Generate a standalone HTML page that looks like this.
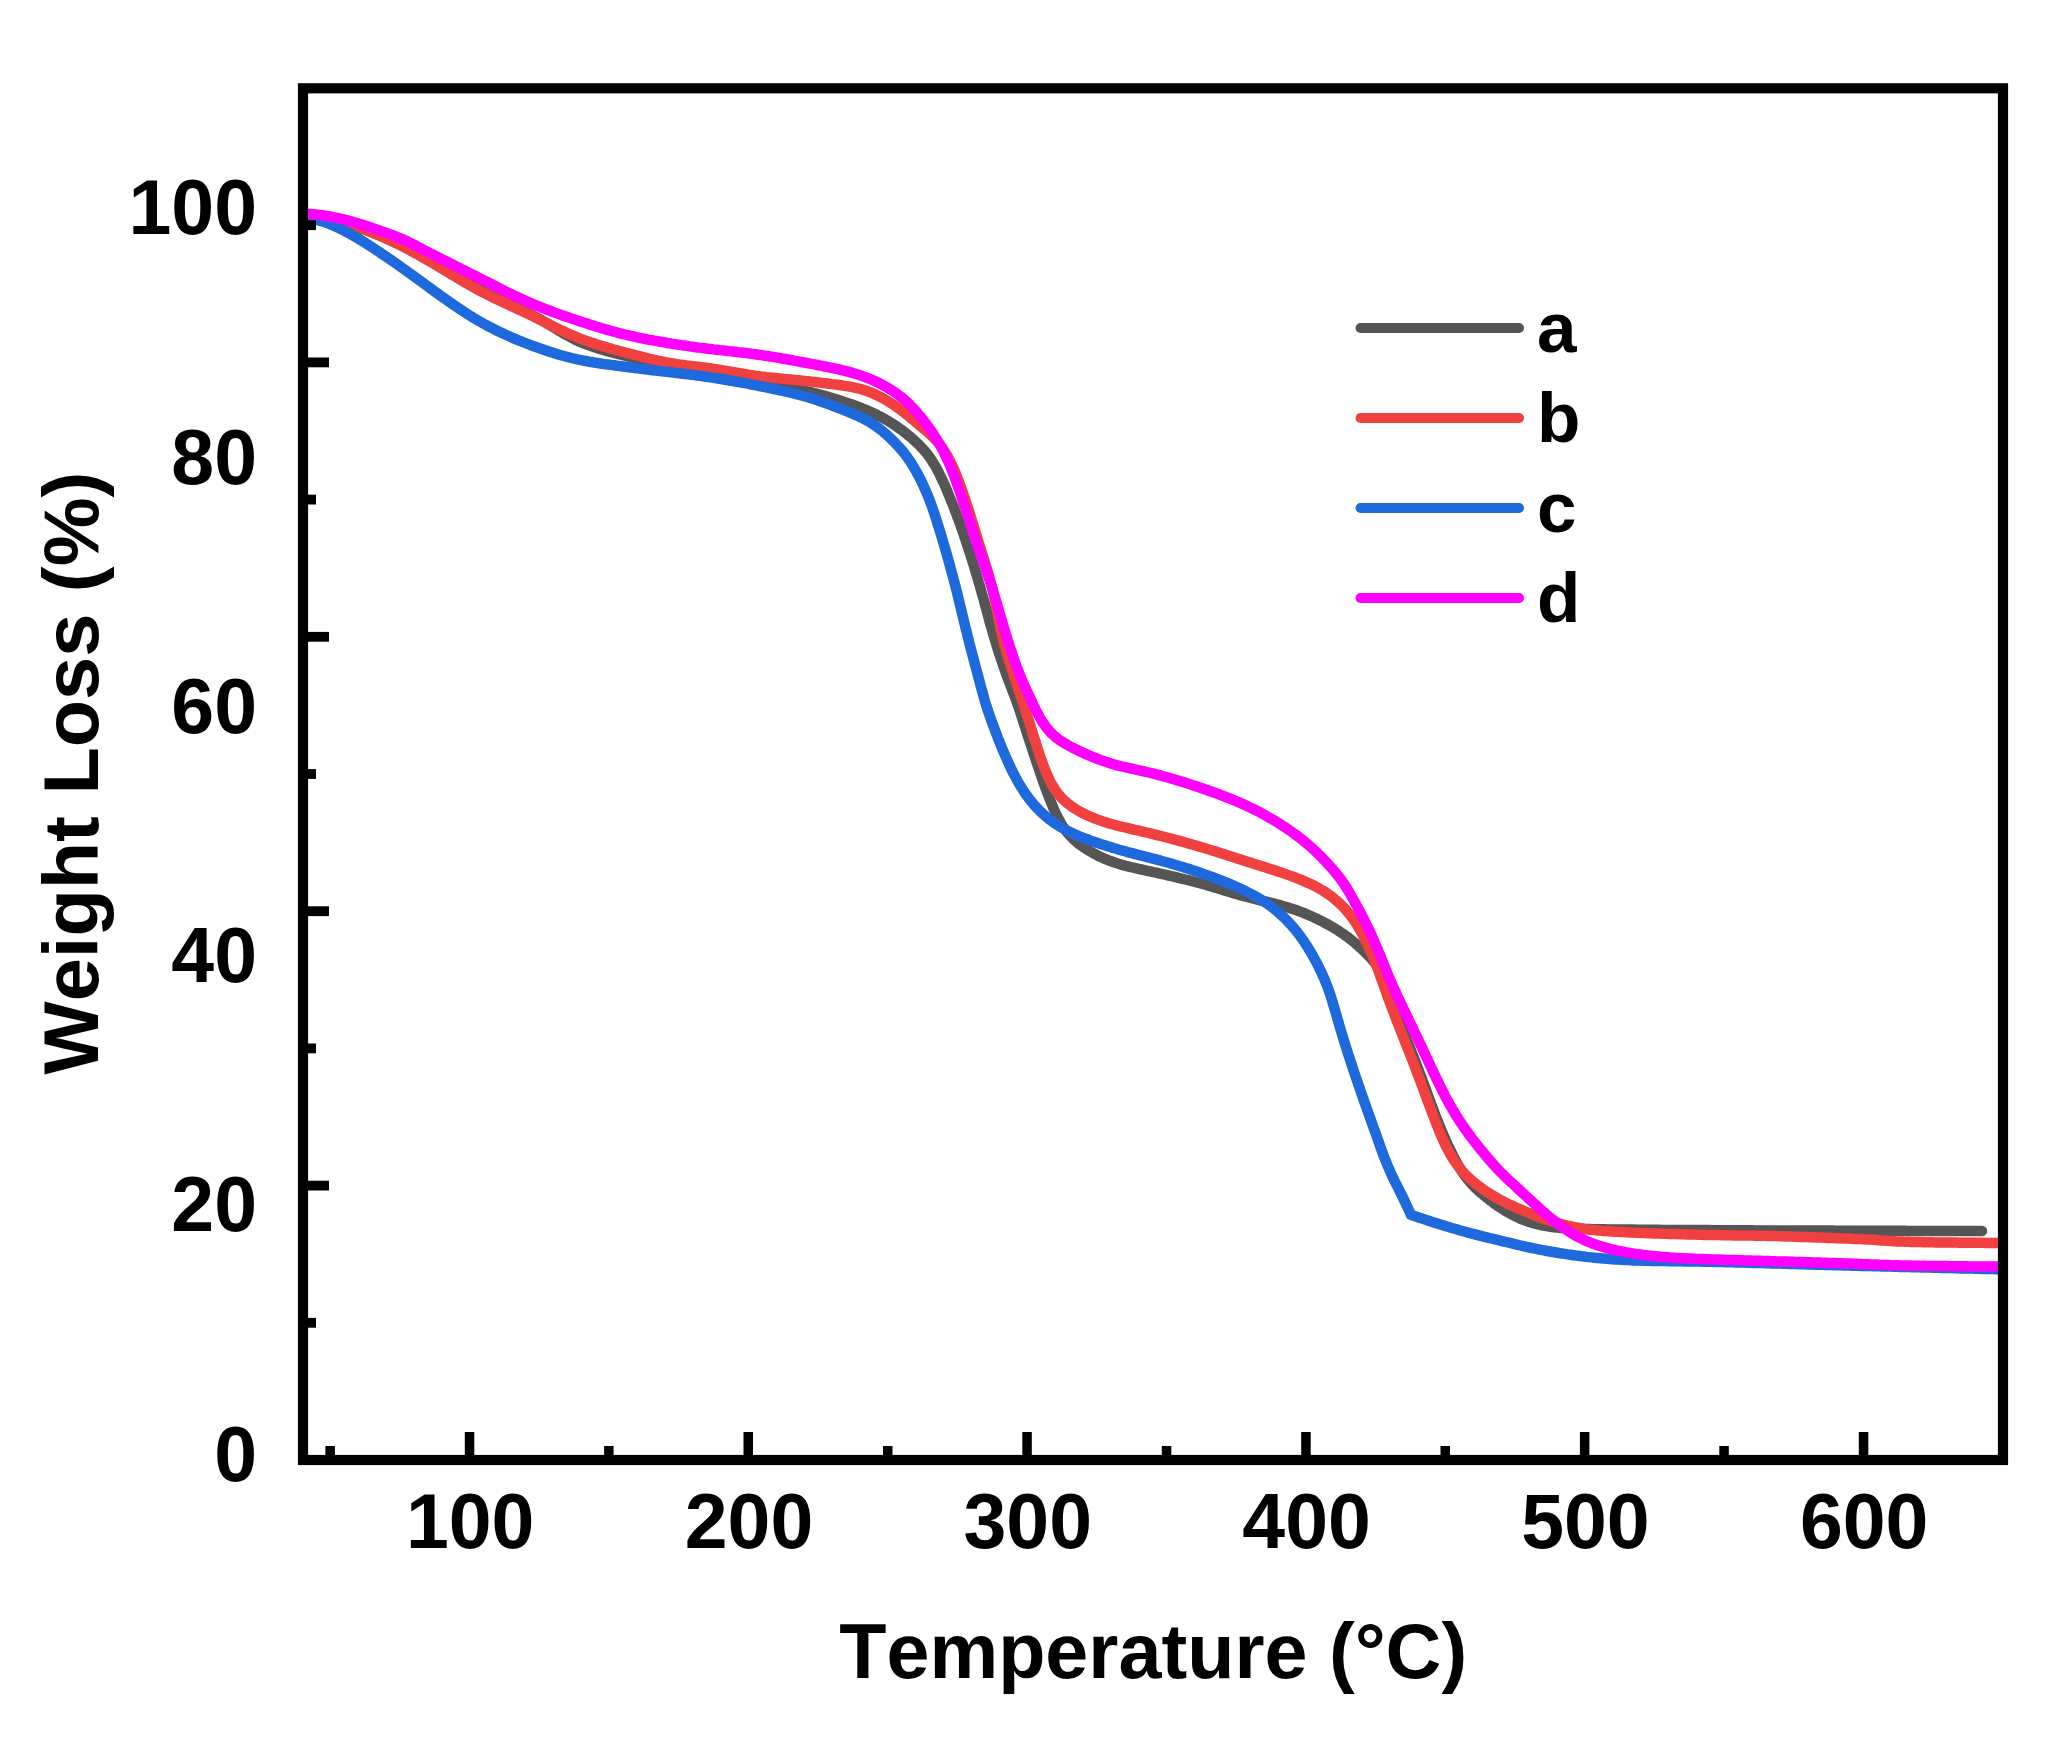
<!DOCTYPE html>
<html><head><meta charset="utf-8"><title>TGA</title>
<style>
html,body{margin:0;padding:0;background:#fff;}
svg{display:block;}
text{font-family:"Liberation Sans",Arial,Helvetica,sans-serif;font-weight:bold;fill:#000;font-kerning:none;}
</style></head>
<body>
<svg width="2057" height="1741" viewBox="0 0 2057 1741">
<rect width="2057" height="1741" fill="#fff"/>
<g fill="none" stroke-width="10.5" stroke-linejoin="round" stroke-linecap="round">
<path stroke="#555555" d="M304.0 214.2 L307.0 214.6 L309.9 215.1 L312.9 215.6 L315.9 216.1 L318.8 216.6 L321.8 217.1 L324.7 217.7 L327.6 218.4 L330.5 219.1 L333.4 219.8 L336.3 220.6 L339.2 221.4 L342.1 222.2 L345.0 223.1 L347.8 224.0 L350.7 224.9 L353.5 225.8 L356.4 226.7 L359.2 227.7 L362.1 228.7 L364.9 229.7 L367.7 230.7 L370.5 231.8 L373.3 232.9 L376.1 234.0 L378.9 235.1 L381.6 236.3 L384.4 237.4 L387.1 238.6 L389.9 239.9 L392.6 241.1 L395.3 242.4 L398.0 243.7 L400.7 245.0 L403.4 246.3 L406.1 247.7 L408.7 249.1 L411.4 250.5 L414.0 251.9 L416.7 253.3 L419.3 254.8 L421.9 256.2 L424.5 257.7 L427.2 259.1 L429.8 260.6 L432.4 262.1 L435.0 263.6 L437.6 265.1 L440.2 266.5 L442.8 268.0 L445.4 269.5 L448.0 271.1 L450.6 272.6 L453.2 274.1 L455.8 275.6 L458.4 277.1 L461.0 278.6 L463.6 280.1 L466.2 281.6 L468.8 283.1 L471.4 284.6 L474.0 286.0 L476.6 287.5 L479.2 289.0 L481.8 290.4 L484.5 291.9 L487.1 293.3 L489.8 294.7 L492.4 296.1 L495.1 297.4 L497.8 298.8 L500.5 300.1 L503.2 301.4 L505.9 302.7 L508.6 304.0 L511.3 305.2 L514.1 306.4 L516.8 307.7 L519.5 308.9 L522.2 310.2 L524.9 311.5 L527.6 312.8 L530.3 314.2 L533.0 315.5 L535.6 316.9 L538.2 318.4 L540.9 319.9 L543.5 321.3 L546.1 322.9 L548.7 324.4 L551.2 326.0 L553.8 327.5 L556.4 329.1 L559.0 330.7 L561.6 332.2 L564.1 333.7 L566.7 335.2 L569.4 336.6 L572.0 338.0 L574.6 339.4 L577.3 340.6 L580.0 341.9 L582.8 343.0 L585.5 344.1 L588.3 345.1 L591.1 346.1 L593.9 347.1 L596.8 348.0 L599.6 348.9 L602.5 349.7 L605.4 350.6 L608.3 351.4 L611.2 352.2 L614.1 352.9 L617.0 353.7 L620.0 354.5 L622.9 355.2 L625.8 355.9 L628.7 356.7 L631.6 357.4 L634.6 358.1 L637.5 358.9 L640.4 359.6 L643.3 360.3 L646.2 361.0 L649.2 361.7 L652.1 362.4 L655.0 363.0 L657.9 363.7 L660.9 364.3 L663.8 364.9 L666.8 365.5 L669.7 366.0 L672.7 366.6 L675.6 367.0 L678.6 367.5 L681.5 368.0 L684.5 368.4 L687.5 368.8 L690.4 369.2 L693.4 369.6 L696.4 370.0 L699.4 370.4 L702.3 370.8 L705.3 371.2 L708.3 371.7 L711.2 372.2 L714.2 372.7 L717.1 373.2 L720.1 373.7 L723.0 374.2 L726.0 374.8 L728.9 375.3 L731.9 375.9 L734.8 376.5 L737.8 377.0 L740.7 377.6 L743.7 378.2 L746.6 378.8 L749.5 379.4 L752.5 380.0 L755.4 380.6 L758.4 381.1 L761.3 381.7 L764.3 382.3 L767.2 382.9 L770.2 383.4 L773.1 384.0 L776.1 384.6 L779.0 385.2 L781.9 385.8 L784.9 386.3 L787.8 386.9 L790.8 387.5 L793.7 388.2 L796.6 388.8 L799.6 389.4 L802.5 390.1 L805.4 390.8 L808.3 391.5 L811.2 392.2 L814.1 393.0 L817.0 393.7 L819.9 394.5 L822.8 395.3 L825.7 396.1 L828.6 397.0 L831.4 397.8 L834.3 398.7 L837.2 399.6 L840.0 400.5 L842.9 401.4 L845.7 402.4 L848.6 403.4 L851.4 404.3 L854.2 405.3 L857.1 406.4 L859.9 407.5 L862.7 408.6 L865.4 409.7 L868.2 410.9 L870.9 412.1 L873.7 413.3 L876.4 414.6 L879.0 416.0 L881.7 417.3 L884.3 418.8 L886.9 420.3 L889.5 421.8 L892.0 423.4 L894.5 425.0 L897.0 426.7 L899.4 428.5 L901.9 430.2 L904.3 432.1 L906.6 433.9 L909.0 435.8 L911.3 437.8 L913.5 439.7 L915.8 441.8 L917.9 443.8 L920.0 445.9 L922.1 448.1 L924.1 450.3 L926.0 452.5 L927.8 454.8 L929.6 457.2 L931.2 459.6 L932.8 462.1 L934.4 464.6 L935.9 467.2 L937.3 469.8 L938.7 472.5 L940.0 475.2 L941.3 477.9 L942.6 480.6 L943.9 483.4 L945.1 486.1 L946.3 488.9 L947.5 491.7 L948.6 494.5 L949.8 497.3 L950.9 500.1 L952.1 502.9 L953.2 505.7 L954.3 508.5 L955.3 511.3 L956.4 514.1 L957.4 516.9 L958.5 519.7 L959.5 522.5 L960.5 525.4 L961.5 528.2 L962.5 531.0 L963.5 533.9 L964.4 536.7 L965.4 539.5 L966.3 542.4 L967.3 545.2 L968.2 548.1 L969.1 550.9 L970.1 553.8 L971.0 556.7 L971.9 559.5 L972.8 562.4 L973.7 565.2 L974.5 568.1 L975.4 571.0 L976.3 573.9 L977.1 576.7 L978.0 579.6 L978.8 582.5 L979.7 585.4 L980.5 588.2 L981.3 591.1 L982.1 594.0 L983.0 596.9 L983.8 599.8 L984.5 602.7 L985.3 605.6 L986.1 608.5 L986.9 611.4 L987.7 614.3 L988.5 617.2 L989.2 620.1 L990.0 623.0 L990.8 625.9 L991.7 628.7 L992.5 631.6 L993.3 634.5 L994.2 637.4 L995.0 640.3 L995.9 643.1 L996.8 646.0 L997.7 648.9 L998.6 651.7 L999.5 654.6 L1000.5 657.4 L1001.4 660.3 L1002.4 663.1 L1003.3 666.0 L1004.3 668.8 L1005.3 671.6 L1006.3 674.4 L1007.4 677.3 L1008.4 680.1 L1009.5 682.9 L1010.6 685.7 L1011.6 688.5 L1012.7 691.3 L1013.8 694.1 L1014.9 696.9 L1015.9 699.7 L1016.9 702.5 L1017.9 705.3 L1018.9 708.1 L1019.9 711.0 L1020.8 713.8 L1021.7 716.7 L1022.6 719.5 L1023.5 722.4 L1024.4 725.3 L1025.4 728.1 L1026.3 731.0 L1027.2 733.8 L1028.1 736.7 L1029.1 739.5 L1030.0 742.4 L1030.9 745.2 L1031.9 748.1 L1032.8 750.9 L1033.8 753.8 L1034.7 756.6 L1035.7 759.5 L1036.6 762.3 L1037.6 765.2 L1038.5 768.0 L1039.5 770.9 L1040.4 773.7 L1041.4 776.5 L1042.4 779.4 L1043.4 782.2 L1044.4 785.0 L1045.4 787.8 L1046.5 790.6 L1047.5 793.4 L1048.6 796.2 L1049.7 799.0 L1050.8 801.8 L1052.0 804.6 L1053.1 807.4 L1054.3 810.1 L1055.6 812.9 L1056.8 815.6 L1058.2 818.2 L1059.6 820.9 L1061.0 823.4 L1062.6 826.0 L1064.3 828.4 L1066.0 830.8 L1067.9 833.1 L1069.8 835.4 L1071.8 837.5 L1074.0 839.6 L1076.2 841.6 L1078.4 843.5 L1080.8 845.3 L1083.2 847.0 L1085.7 848.7 L1088.2 850.3 L1090.8 851.8 L1093.4 853.3 L1096.1 854.7 L1098.7 856.1 L1101.4 857.3 L1104.2 858.6 L1106.9 859.7 L1109.7 860.8 L1112.5 861.8 L1115.3 862.8 L1118.2 863.7 L1121.1 864.6 L1123.9 865.4 L1126.8 866.1 L1129.7 866.8 L1132.7 867.5 L1135.6 868.2 L1138.5 868.9 L1141.4 869.5 L1144.4 870.1 L1147.3 870.8 L1150.3 871.4 L1153.2 872.1 L1156.1 872.7 L1159.1 873.4 L1162.0 874.0 L1164.9 874.7 L1167.8 875.4 L1170.8 876.0 L1173.7 876.7 L1176.6 877.4 L1179.5 878.1 L1182.5 878.8 L1185.4 879.5 L1188.3 880.2 L1191.2 880.9 L1194.1 881.7 L1197.0 882.4 L1199.9 883.2 L1202.8 884.0 L1205.7 884.8 L1208.5 885.7 L1211.4 886.5 L1214.3 887.4 L1217.2 888.2 L1220.0 889.1 L1222.9 890.0 L1225.8 890.9 L1228.7 891.7 L1231.5 892.6 L1234.4 893.4 L1237.3 894.3 L1240.2 895.1 L1243.1 895.9 L1246.0 896.7 L1248.9 897.4 L1251.8 898.1 L1254.7 898.9 L1257.6 899.6 L1260.5 900.3 L1263.4 901.0 L1266.3 901.7 L1269.3 902.4 L1272.2 903.2 L1275.1 903.9 L1278.0 904.7 L1280.9 905.4 L1283.8 906.3 L1286.6 907.1 L1289.5 908.0 L1292.4 908.9 L1295.2 909.8 L1298.0 910.8 L1300.8 911.9 L1303.6 912.9 L1306.4 914.1 L1309.1 915.3 L1311.9 916.5 L1314.6 917.7 L1317.3 919.0 L1320.0 920.3 L1322.7 921.7 L1325.3 923.1 L1328.0 924.5 L1330.6 926.0 L1333.2 927.5 L1335.7 929.0 L1338.3 930.6 L1340.8 932.3 L1343.3 933.9 L1345.7 935.7 L1348.1 937.4 L1350.5 939.3 L1352.8 941.1 L1355.1 943.1 L1357.4 945.0 L1359.6 947.0 L1361.8 949.0 L1364.0 951.1 L1366.1 953.2 L1368.2 955.3 L1370.3 957.5 L1372.3 959.7 L1374.1 962.0 L1375.9 964.3 L1377.6 966.7 L1379.1 969.2 L1380.6 971.7 L1381.9 974.3 L1383.1 977.0 L1384.3 979.7 L1385.3 982.5 L1386.4 985.3 L1387.3 988.2 L1388.3 991.0 L1389.3 993.9 L1390.3 996.7 L1391.3 999.6 L1392.3 1002.4 L1393.3 1005.3 L1394.4 1008.1 L1395.4 1010.9 L1396.5 1013.7 L1397.6 1016.5 L1398.7 1019.3 L1399.8 1022.1 L1400.9 1024.9 L1402.0 1027.7 L1403.1 1030.5 L1404.2 1033.2 L1405.3 1036.0 L1406.4 1038.8 L1407.5 1041.6 L1408.6 1044.4 L1409.7 1047.2 L1410.8 1050.0 L1411.9 1052.8 L1413.0 1055.6 L1414.1 1058.4 L1415.2 1061.2 L1416.2 1064.0 L1417.3 1066.8 L1418.4 1069.6 L1419.4 1072.4 L1420.5 1075.2 L1421.6 1078.0 L1422.6 1080.8 L1423.7 1083.6 L1424.7 1086.4 L1425.8 1089.2 L1426.8 1092.0 L1427.8 1094.9 L1428.9 1097.7 L1429.9 1100.5 L1430.9 1103.3 L1432.0 1106.1 L1433.0 1108.9 L1434.1 1111.7 L1435.1 1114.6 L1436.2 1117.4 L1437.3 1120.1 L1438.4 1122.9 L1439.5 1125.7 L1440.7 1128.5 L1441.8 1131.3 L1443.0 1134.0 L1444.2 1136.8 L1445.4 1139.5 L1446.6 1142.3 L1447.9 1145.0 L1449.2 1147.7 L1450.5 1150.4 L1451.8 1153.1 L1453.1 1155.8 L1454.5 1158.5 L1455.9 1161.1 L1457.4 1163.8 L1458.9 1166.4 L1460.4 1168.9 L1462.0 1171.4 L1463.6 1173.9 L1465.4 1176.3 L1467.2 1178.7 L1469.1 1181.0 L1471.0 1183.2 L1473.0 1185.3 L1475.1 1187.5 L1477.3 1189.5 L1479.5 1191.5 L1481.8 1193.5 L1484.1 1195.5 L1486.4 1197.4 L1488.7 1199.2 L1491.1 1201.1 L1493.5 1202.9 L1495.9 1204.6 L1498.4 1206.3 L1500.9 1208.0 L1503.4 1209.6 L1506.0 1211.2 L1508.6 1212.7 L1511.2 1214.1 L1513.8 1215.5 L1516.5 1216.8 L1519.2 1218.1 L1522.0 1219.3 L1524.8 1220.4 L1527.6 1221.4 L1530.4 1222.3 L1533.2 1223.2 L1536.1 1224.0 L1539.0 1224.7 L1541.9 1225.3 L1544.9 1225.9 L1547.8 1226.4 L1550.8 1226.9 L1553.7 1227.3 L1556.7 1227.6 L1559.7 1227.9 L1562.7 1228.1 L1565.7 1228.3 L1568.7 1228.5 L1571.7 1228.6 L1574.7 1228.7 L1577.7 1228.8 L1580.7 1228.9 L1583.7 1229.0 L1586.7 1229.0 L1589.7 1229.1 L1592.7 1229.2 L1595.7 1229.2 L1598.7 1229.2 L1601.7 1229.3 L1604.7 1229.3 L1607.7 1229.4 L1610.7 1229.4 L1613.7 1229.4 L1616.7 1229.5 L1619.7 1229.5 L1622.7 1229.5 L1625.7 1229.6 L1628.7 1229.6 L1631.7 1229.6 L1634.7 1229.6 L1637.7 1229.7 L1640.7 1229.7 L1643.7 1229.7 L1646.7 1229.7 L1649.7 1229.8 L1652.7 1229.8 L1655.7 1229.8 L1658.7 1229.8 L1661.7 1229.9 L1664.7 1229.9 L1667.7 1229.9 L1670.7 1229.9 L1673.7 1229.9 L1676.7 1230.0 L1679.7 1230.0 L1682.7 1230.0 L1685.7 1230.0 L1688.7 1230.0 L1691.7 1230.1 L1694.7 1230.1 L1697.7 1230.1 L1700.7 1230.1 L1703.7 1230.1 L1706.7 1230.1 L1709.7 1230.1 L1712.7 1230.2 L1715.7 1230.2 L1718.7 1230.2 L1721.7 1230.2 L1724.7 1230.2 L1727.7 1230.2 L1730.7 1230.3 L1733.7 1230.3 L1736.7 1230.3 L1739.7 1230.3 L1742.7 1230.3 L1745.7 1230.3 L1748.7 1230.3 L1751.7 1230.3 L1754.7 1230.4 L1757.7 1230.4 L1760.7 1230.4 L1763.7 1230.4 L1766.7 1230.4 L1769.7 1230.4 L1772.7 1230.4 L1775.7 1230.4 L1778.7 1230.5 L1781.7 1230.5 L1784.7 1230.5 L1787.7 1230.5 L1790.7 1230.5 L1793.7 1230.5 L1796.7 1230.5 L1799.7 1230.5 L1802.7 1230.5 L1805.7 1230.6 L1808.7 1230.6 L1811.7 1230.6 L1814.7 1230.6 L1817.7 1230.6 L1820.7 1230.6 L1823.7 1230.6 L1826.7 1230.6 L1829.7 1230.6 L1832.7 1230.6 L1835.7 1230.7 L1838.7 1230.7 L1841.7 1230.7 L1844.7 1230.7 L1847.7 1230.7 L1850.7 1230.7 L1853.7 1230.7 L1856.7 1230.7 L1859.7 1230.7 L1862.7 1230.7 L1865.7 1230.7 L1868.7 1230.8 L1871.7 1230.8 L1874.7 1230.8 L1877.7 1230.8 L1880.7 1230.8 L1883.7 1230.8 L1886.7 1230.8 L1889.7 1230.8 L1892.7 1230.8 L1895.7 1230.8 L1898.7 1230.8 L1901.7 1230.8 L1904.7 1230.8 L1907.7 1230.9 L1910.7 1230.9 L1913.7 1230.9 L1916.7 1230.9 L1919.7 1230.9 L1922.7 1230.9 L1925.7 1230.9 L1928.7 1230.9 L1931.7 1230.9 L1934.7 1230.9 L1937.7 1230.9 L1940.7 1230.9 L1943.7 1230.9 L1946.7 1230.9 L1949.7 1230.9 L1952.6 1230.9 L1955.6 1231.0 L1958.6 1231.0 L1961.6 1231.0 L1964.6 1231.0 L1967.5 1231.0 L1970.4 1231.0 L1973.4 1231.0 L1976.3 1231.0 L1979.1 1231.0 L1982.0 1231.0"/>
<path stroke="#F04040" d="M304.0 214.2 L307.0 214.6 L309.9 215.1 L312.9 215.6 L315.9 216.1 L318.8 216.6 L321.8 217.1 L324.7 217.7 L327.6 218.4 L330.5 219.1 L333.4 219.8 L336.3 220.6 L339.2 221.4 L342.1 222.2 L345.0 223.1 L347.8 224.0 L350.7 224.9 L353.5 225.8 L356.4 226.8 L359.2 227.7 L362.0 228.7 L364.9 229.7 L367.7 230.8 L370.5 231.9 L373.3 233.0 L376.0 234.1 L378.8 235.3 L381.6 236.4 L384.3 237.6 L387.0 238.9 L389.8 240.1 L392.5 241.4 L395.2 242.7 L397.9 244.0 L400.6 245.3 L403.2 246.7 L405.9 248.1 L408.5 249.5 L411.2 250.9 L413.8 252.4 L416.4 253.8 L419.0 255.3 L421.7 256.8 L424.3 258.3 L426.9 259.8 L429.5 261.3 L432.1 262.8 L434.6 264.3 L437.2 265.8 L439.8 267.4 L442.4 268.9 L445.0 270.5 L447.5 272.0 L450.1 273.6 L452.7 275.1 L455.2 276.6 L457.8 278.2 L460.4 279.7 L463.0 281.2 L465.6 282.8 L468.2 284.2 L470.8 285.7 L473.4 287.2 L476.0 288.6 L478.6 290.1 L481.3 291.5 L483.9 292.8 L486.6 294.2 L489.3 295.5 L492.0 296.9 L494.7 298.2 L497.4 299.5 L500.1 300.8 L502.8 302.1 L505.5 303.3 L508.2 304.6 L511.0 305.9 L513.7 307.1 L516.4 308.4 L519.1 309.7 L521.8 310.9 L524.6 312.2 L527.3 313.5 L530.0 314.8 L532.7 316.1 L535.4 317.5 L538.1 318.8 L540.8 320.2 L543.4 321.5 L546.1 322.9 L548.8 324.2 L551.5 325.6 L554.2 326.9 L556.9 328.2 L559.6 329.6 L562.3 330.8 L565.0 332.1 L567.7 333.4 L570.5 334.6 L573.2 335.7 L576.0 336.9 L578.7 338.0 L581.5 339.1 L584.3 340.1 L587.1 341.1 L590.0 342.1 L592.8 343.0 L595.6 344.0 L598.5 344.9 L601.4 345.8 L604.2 346.6 L607.1 347.5 L610.0 348.3 L612.9 349.2 L615.8 350.0 L618.7 350.8 L621.6 351.5 L624.5 352.3 L627.4 353.1 L630.3 353.9 L633.2 354.6 L636.1 355.4 L639.0 356.1 L642.0 356.8 L644.9 357.6 L647.8 358.3 L650.7 359.0 L653.6 359.7 L656.6 360.3 L659.5 361.0 L662.4 361.6 L665.4 362.2 L668.3 362.7 L671.3 363.3 L674.2 363.7 L677.2 364.2 L680.1 364.6 L683.1 365.0 L686.1 365.4 L689.1 365.7 L692.0 366.1 L695.0 366.4 L698.0 366.8 L701.0 367.1 L703.9 367.5 L706.9 367.9 L709.9 368.3 L712.9 368.8 L715.8 369.2 L718.8 369.7 L721.7 370.2 L724.7 370.7 L727.7 371.2 L730.6 371.7 L733.6 372.2 L736.5 372.7 L739.5 373.2 L742.5 373.7 L745.4 374.2 L748.4 374.7 L751.3 375.1 L754.3 375.6 L757.3 376.0 L760.3 376.4 L763.2 376.7 L766.2 377.1 L769.2 377.4 L772.2 377.7 L775.1 378.0 L778.1 378.3 L781.1 378.6 L784.1 378.9 L787.1 379.2 L790.1 379.5 L793.1 379.8 L796.1 380.1 L799.0 380.3 L802.0 380.6 L805.0 381.0 L808.0 381.3 L811.0 381.6 L814.0 381.9 L816.9 382.3 L819.9 382.6 L822.9 383.0 L825.9 383.3 L828.9 383.7 L831.8 384.1 L834.8 384.4 L837.8 384.8 L840.8 385.2 L843.7 385.7 L846.7 386.1 L849.6 386.6 L852.6 387.2 L855.5 387.8 L858.4 388.5 L861.3 389.2 L864.1 390.1 L866.9 391.0 L869.7 392.1 L872.5 393.2 L875.2 394.4 L877.9 395.7 L880.6 397.0 L883.2 398.5 L885.8 400.0 L888.4 401.5 L890.9 403.1 L893.4 404.7 L895.9 406.4 L898.3 408.1 L900.7 409.9 L903.1 411.7 L905.5 413.6 L907.8 415.5 L910.1 417.4 L912.4 419.3 L914.7 421.2 L917.0 423.1 L919.3 425.1 L921.6 427.0 L923.9 428.9 L926.2 430.9 L928.4 432.8 L930.6 434.8 L932.8 436.9 L934.9 439.0 L936.9 441.2 L938.8 443.4 L940.7 445.7 L942.4 448.1 L944.1 450.6 L945.7 453.1 L947.2 455.6 L948.6 458.2 L950.0 460.9 L951.3 463.6 L952.6 466.3 L953.8 469.0 L955.0 471.8 L956.1 474.5 L957.2 477.3 L958.3 480.1 L959.4 483.0 L960.4 485.8 L961.4 488.6 L962.4 491.5 L963.4 494.3 L964.4 497.1 L965.3 500.0 L966.3 502.8 L967.2 505.7 L968.2 508.6 L969.1 511.4 L970.0 514.3 L970.9 517.1 L971.7 520.0 L972.6 522.9 L973.5 525.7 L974.4 528.6 L975.3 531.5 L976.1 534.4 L977.0 537.2 L977.9 540.1 L978.8 543.0 L979.7 545.8 L980.6 548.7 L981.5 551.6 L982.4 554.4 L983.3 557.3 L984.2 560.1 L985.1 563.0 L986.0 565.9 L986.9 568.8 L987.7 571.6 L988.6 574.5 L989.4 577.4 L990.2 580.3 L991.0 583.2 L991.7 586.1 L992.4 589.0 L993.1 591.9 L993.8 594.8 L994.4 597.7 L995.0 600.7 L995.6 603.6 L996.2 606.6 L996.8 609.5 L997.4 612.4 L997.9 615.4 L998.5 618.3 L999.1 621.3 L999.7 624.2 L1000.3 627.2 L1000.9 630.1 L1001.6 633.0 L1002.3 635.9 L1003.0 638.8 L1003.7 641.7 L1004.4 644.6 L1005.2 647.5 L1006.0 650.4 L1006.9 653.3 L1007.7 656.2 L1008.6 659.1 L1009.5 661.9 L1010.4 664.8 L1011.3 667.7 L1012.2 670.5 L1013.1 673.4 L1014.1 676.2 L1015.0 679.1 L1016.0 681.9 L1016.9 684.8 L1017.9 687.6 L1018.8 690.4 L1019.8 693.3 L1020.8 696.1 L1021.7 699.0 L1022.7 701.8 L1023.6 704.7 L1024.6 707.5 L1025.5 710.4 L1026.4 713.2 L1027.3 716.1 L1028.2 718.9 L1029.2 721.8 L1030.1 724.6 L1031.0 727.5 L1031.9 730.4 L1032.7 733.2 L1033.6 736.1 L1034.5 739.0 L1035.5 741.8 L1036.4 744.7 L1037.3 747.5 L1038.2 750.4 L1039.1 753.2 L1040.1 756.1 L1041.1 758.9 L1042.1 761.8 L1043.1 764.6 L1044.2 767.4 L1045.3 770.2 L1046.4 773.0 L1047.6 775.7 L1048.8 778.4 L1050.1 781.1 L1051.5 783.8 L1053.0 786.3 L1054.5 788.9 L1056.2 791.3 L1058.0 793.7 L1059.8 795.9 L1061.8 798.1 L1063.9 800.1 L1066.1 802.1 L1068.4 804.0 L1070.8 805.8 L1073.2 807.5 L1075.7 809.1 L1078.2 810.7 L1080.8 812.1 L1083.5 813.5 L1086.1 814.8 L1088.9 816.1 L1091.6 817.2 L1094.4 818.4 L1097.2 819.4 L1100.0 820.4 L1102.8 821.4 L1105.7 822.3 L1108.6 823.2 L1111.4 824.0 L1114.3 824.8 L1117.2 825.6 L1120.1 826.3 L1123.1 827.0 L1126.0 827.7 L1128.9 828.4 L1131.8 829.1 L1134.7 829.8 L1137.7 830.4 L1140.6 831.1 L1143.5 831.8 L1146.4 832.5 L1149.4 833.2 L1152.3 833.9 L1155.2 834.6 L1158.1 835.3 L1161.0 836.0 L1163.9 836.8 L1166.8 837.5 L1169.7 838.3 L1172.6 839.1 L1175.5 839.9 L1178.4 840.6 L1181.3 841.4 L1184.2 842.2 L1187.1 843.1 L1190.0 843.9 L1192.9 844.7 L1195.7 845.5 L1198.6 846.4 L1201.5 847.2 L1204.4 848.1 L1207.2 849.0 L1210.1 849.8 L1213.0 850.7 L1215.8 851.6 L1218.7 852.5 L1221.5 853.4 L1224.4 854.3 L1227.3 855.3 L1230.1 856.2 L1233.0 857.1 L1235.8 858.0 L1238.7 858.9 L1241.5 859.8 L1244.4 860.8 L1247.3 861.7 L1250.1 862.6 L1253.0 863.5 L1255.9 864.4 L1258.7 865.3 L1261.6 866.2 L1264.5 867.1 L1267.3 868.0 L1270.2 868.9 L1273.0 869.8 L1275.9 870.7 L1278.7 871.7 L1281.6 872.6 L1284.4 873.6 L1287.3 874.6 L1290.1 875.6 L1292.9 876.6 L1295.7 877.7 L1298.5 878.8 L1301.3 879.9 L1304.0 881.1 L1306.8 882.3 L1309.5 883.5 L1312.2 884.8 L1314.9 886.1 L1317.5 887.5 L1320.1 889.0 L1322.7 890.5 L1325.2 892.1 L1327.7 893.8 L1330.1 895.5 L1332.5 897.3 L1334.8 899.2 L1337.1 901.1 L1339.3 903.1 L1341.5 905.2 L1343.6 907.3 L1345.6 909.5 L1347.5 911.8 L1349.4 914.1 L1351.3 916.4 L1353.0 918.8 L1354.7 921.3 L1356.4 923.8 L1357.9 926.3 L1359.4 928.9 L1360.9 931.5 L1362.3 934.2 L1363.7 936.8 L1365.0 939.5 L1366.3 942.2 L1367.6 944.9 L1368.9 947.6 L1370.1 950.4 L1371.3 953.1 L1372.5 955.9 L1373.6 958.7 L1374.8 961.4 L1375.9 964.2 L1377.0 967.0 L1378.1 969.8 L1379.1 972.6 L1380.1 975.4 L1381.2 978.3 L1382.2 981.1 L1383.2 983.9 L1384.2 986.7 L1385.2 989.6 L1386.2 992.4 L1387.2 995.2 L1388.2 998.0 L1389.3 1000.8 L1390.3 1003.7 L1391.3 1006.5 L1392.4 1009.3 L1393.5 1012.1 L1394.6 1014.9 L1395.6 1017.7 L1396.7 1020.5 L1397.8 1023.3 L1398.9 1026.1 L1400.0 1028.8 L1401.1 1031.6 L1402.2 1034.4 L1403.3 1037.2 L1404.4 1040.0 L1405.5 1042.8 L1406.6 1045.6 L1407.7 1048.4 L1408.8 1051.2 L1409.9 1054.0 L1411.0 1056.8 L1412.1 1059.6 L1413.2 1062.4 L1414.2 1065.2 L1415.3 1068.0 L1416.4 1070.8 L1417.4 1073.6 L1418.5 1076.4 L1419.6 1079.2 L1420.6 1082.0 L1421.7 1084.8 L1422.7 1087.6 L1423.8 1090.4 L1424.8 1093.2 L1425.9 1096.1 L1426.9 1098.9 L1427.9 1101.7 L1429.0 1104.5 L1430.0 1107.3 L1431.1 1110.1 L1432.1 1112.9 L1433.2 1115.7 L1434.3 1118.5 L1435.4 1121.3 L1436.5 1124.1 L1437.6 1126.9 L1438.7 1129.7 L1439.9 1132.5 L1441.0 1135.3 L1442.2 1138.0 L1443.5 1140.7 L1444.7 1143.5 L1446.0 1146.2 L1447.4 1148.8 L1448.8 1151.5 L1450.2 1154.1 L1451.7 1156.7 L1453.3 1159.2 L1455.0 1161.7 L1456.7 1164.1 L1458.5 1166.5 L1460.3 1168.8 L1462.3 1171.1 L1464.3 1173.3 L1466.3 1175.4 L1468.4 1177.5 L1470.6 1179.5 L1472.9 1181.5 L1475.2 1183.4 L1477.5 1185.2 L1479.9 1187.0 L1482.4 1188.8 L1484.8 1190.5 L1487.3 1192.2 L1489.9 1193.8 L1492.4 1195.4 L1495.0 1196.9 L1497.6 1198.4 L1500.2 1199.8 L1502.9 1201.2 L1505.5 1202.6 L1508.2 1203.9 L1510.9 1205.2 L1513.7 1206.4 L1516.4 1207.7 L1519.1 1208.9 L1521.9 1210.1 L1524.6 1211.3 L1527.4 1212.4 L1530.2 1213.5 L1533.0 1214.6 L1535.8 1215.7 L1538.6 1216.7 L1541.4 1217.7 L1544.2 1218.7 L1547.1 1219.7 L1549.9 1220.6 L1552.8 1221.5 L1555.7 1222.4 L1558.5 1223.2 L1561.4 1224.0 L1564.3 1224.8 L1567.2 1225.5 L1570.2 1226.2 L1573.1 1226.9 L1576.0 1227.5 L1579.0 1228.0 L1581.9 1228.5 L1584.9 1229.0 L1587.8 1229.4 L1590.8 1229.8 L1593.8 1230.1 L1596.8 1230.4 L1599.7 1230.6 L1602.7 1230.9 L1605.7 1231.1 L1608.7 1231.3 L1611.7 1231.5 L1614.7 1231.7 L1617.7 1231.8 L1620.7 1232.0 L1623.7 1232.1 L1626.7 1232.3 L1629.7 1232.4 L1632.7 1232.6 L1635.7 1232.7 L1638.7 1232.8 L1641.7 1233.0 L1644.7 1233.1 L1647.7 1233.2 L1650.7 1233.3 L1653.7 1233.4 L1656.7 1233.5 L1659.7 1233.6 L1662.7 1233.7 L1665.7 1233.8 L1668.7 1233.9 L1671.7 1234.0 L1674.7 1234.0 L1677.7 1234.1 L1680.7 1234.2 L1683.7 1234.3 L1686.7 1234.4 L1689.7 1234.5 L1692.7 1234.6 L1695.7 1234.6 L1698.6 1234.7 L1701.6 1234.8 L1704.6 1234.9 L1707.6 1234.9 L1710.6 1235.0 L1713.6 1235.0 L1716.6 1235.1 L1719.6 1235.1 L1722.6 1235.2 L1725.6 1235.2 L1728.6 1235.3 L1731.6 1235.3 L1734.6 1235.4 L1737.6 1235.4 L1740.6 1235.4 L1743.6 1235.5 L1746.6 1235.5 L1749.6 1235.6 L1752.6 1235.6 L1755.6 1235.7 L1758.6 1235.7 L1761.6 1235.8 L1764.6 1235.8 L1767.6 1235.9 L1770.6 1236.0 L1773.6 1236.0 L1776.6 1236.1 L1779.6 1236.2 L1782.6 1236.3 L1785.6 1236.4 L1788.6 1236.5 L1791.6 1236.6 L1794.6 1236.7 L1797.6 1236.8 L1800.6 1236.9 L1803.6 1237.0 L1806.6 1237.1 L1809.6 1237.2 L1812.6 1237.3 L1815.6 1237.4 L1818.6 1237.5 L1821.6 1237.6 L1824.6 1237.8 L1827.6 1237.9 L1830.6 1238.0 L1833.6 1238.1 L1836.6 1238.2 L1839.6 1238.3 L1842.6 1238.4 L1845.6 1238.5 L1848.6 1238.6 L1851.6 1238.7 L1854.6 1238.9 L1857.6 1239.0 L1860.6 1239.1 L1863.6 1239.3 L1866.6 1239.4 L1869.6 1239.6 L1872.6 1239.8 L1875.6 1240.0 L1878.5 1240.2 L1881.5 1240.4 L1884.5 1240.6 L1887.5 1240.8 L1890.5 1241.0 L1893.5 1241.2 L1896.5 1241.4 L1899.5 1241.5 L1902.5 1241.6 L1905.5 1241.7 L1908.5 1241.8 L1911.5 1241.9 L1914.5 1242.0 L1917.5 1242.1 L1920.5 1242.1 L1923.5 1242.2 L1926.5 1242.2 L1929.5 1242.3 L1932.5 1242.3 L1935.5 1242.4 L1938.5 1242.4 L1941.5 1242.5 L1944.5 1242.5 L1947.5 1242.5 L1950.5 1242.6 L1953.5 1242.6 L1956.5 1242.6 L1959.5 1242.7 L1962.5 1242.7 L1965.5 1242.7 L1968.5 1242.7 L1971.5 1242.8 L1974.5 1242.8 L1977.5 1242.8 L1980.4 1242.8 L1983.4 1242.8 L1986.4 1242.9 L1989.3 1242.9 L1992.2 1242.9 L1995.2 1242.9 L1998.1 1242.9 L2000.0 1242.9"/>
<path stroke="#1E69DC" d="M304.0 217.3 L306.9 217.8 L309.9 218.4 L312.8 219.0 L315.7 219.6 L318.6 220.4 L321.4 221.2 L324.3 222.1 L327.1 223.1 L329.9 224.1 L332.6 225.3 L335.4 226.5 L338.1 227.7 L340.8 229.0 L343.5 230.4 L346.2 231.8 L348.8 233.2 L351.5 234.7 L354.1 236.1 L356.7 237.6 L359.3 239.2 L361.8 240.7 L364.4 242.3 L366.9 243.9 L369.4 245.6 L371.9 247.2 L374.5 248.9 L377.0 250.5 L379.5 252.2 L381.9 253.9 L384.4 255.5 L386.9 257.2 L389.4 258.9 L391.9 260.6 L394.3 262.3 L396.8 264.0 L399.3 265.8 L401.7 267.5 L404.1 269.2 L406.6 271.0 L409.0 272.7 L411.5 274.5 L413.9 276.3 L416.3 278.0 L418.7 279.8 L421.2 281.6 L423.6 283.3 L426.0 285.1 L428.4 286.9 L430.8 288.6 L433.3 290.4 L435.7 292.2 L438.1 293.9 L440.6 295.7 L443.0 297.4 L445.5 299.1 L447.9 300.9 L450.4 302.6 L452.9 304.3 L455.3 306.0 L457.8 307.7 L460.3 309.4 L462.8 311.0 L465.3 312.7 L467.8 314.3 L470.4 315.9 L472.9 317.5 L475.5 319.0 L478.1 320.6 L480.7 322.0 L483.3 323.5 L485.9 324.9 L488.5 326.3 L491.2 327.7 L493.9 329.1 L496.6 330.4 L499.3 331.7 L502.0 333.0 L504.7 334.3 L507.4 335.5 L510.2 336.8 L512.9 338.0 L515.7 339.1 L518.5 340.3 L521.3 341.4 L524.0 342.5 L526.8 343.6 L529.6 344.7 L532.4 345.8 L535.3 346.8 L538.1 347.8 L540.9 348.8 L543.8 349.8 L546.6 350.7 L549.5 351.7 L552.3 352.6 L555.2 353.5 L558.1 354.4 L560.9 355.2 L563.8 356.0 L566.7 356.8 L569.6 357.5 L572.5 358.3 L575.5 358.9 L578.4 359.6 L581.3 360.2 L584.2 360.8 L587.2 361.3 L590.1 361.8 L593.1 362.3 L596.0 362.8 L599.0 363.2 L602.0 363.7 L604.9 364.1 L607.9 364.5 L610.9 364.9 L613.9 365.3 L616.9 365.7 L619.8 366.1 L622.8 366.5 L625.8 366.9 L628.8 367.2 L631.8 367.6 L634.7 368.0 L637.7 368.4 L640.7 368.7 L643.7 369.1 L646.6 369.5 L649.6 369.8 L652.6 370.2 L655.6 370.5 L658.6 370.9 L661.5 371.2 L664.5 371.6 L667.5 371.9 L670.5 372.3 L673.5 372.6 L676.4 373.0 L679.4 373.3 L682.4 373.7 L685.4 374.0 L688.4 374.4 L691.3 374.7 L694.3 375.1 L697.3 375.5 L700.3 375.9 L703.2 376.3 L706.2 376.7 L709.2 377.1 L712.1 377.6 L715.1 378.0 L718.1 378.5 L721.0 379.0 L724.0 379.5 L726.9 380.0 L729.9 380.5 L732.9 381.0 L735.8 381.5 L738.8 382.1 L741.7 382.6 L744.7 383.2 L747.6 383.7 L750.6 384.3 L753.5 384.9 L756.5 385.4 L759.4 386.0 L762.3 386.6 L765.3 387.2 L768.2 387.8 L771.2 388.4 L774.1 389.0 L777.1 389.6 L780.0 390.3 L782.9 390.9 L785.9 391.6 L788.8 392.2 L791.7 392.9 L794.6 393.6 L797.5 394.4 L800.4 395.1 L803.3 395.9 L806.2 396.7 L809.1 397.6 L811.9 398.4 L814.8 399.3 L817.6 400.3 L820.4 401.3 L823.3 402.3 L826.1 403.3 L828.9 404.3 L831.7 405.4 L834.5 406.5 L837.3 407.5 L840.1 408.6 L842.9 409.7 L845.7 410.8 L848.5 412.0 L851.2 413.1 L854.0 414.3 L856.7 415.5 L859.5 416.7 L862.2 418.0 L864.8 419.4 L867.4 420.8 L870.0 422.3 L872.5 423.9 L875.0 425.5 L877.4 427.2 L879.8 429.0 L882.2 430.9 L884.4 432.8 L886.7 434.8 L888.9 436.8 L891.1 438.9 L893.2 441.0 L895.3 443.1 L897.4 445.3 L899.4 447.5 L901.4 449.8 L903.3 452.0 L905.1 454.4 L906.9 456.7 L908.6 459.2 L910.3 461.6 L911.9 464.1 L913.5 466.7 L915.0 469.3 L916.5 471.9 L917.9 474.5 L919.3 477.2 L920.7 479.9 L922.0 482.6 L923.3 485.3 L924.5 488.1 L925.7 490.8 L926.9 493.6 L928.0 496.4 L929.2 499.1 L930.2 501.9 L931.3 504.7 L932.3 507.6 L933.3 510.4 L934.3 513.2 L935.2 516.1 L936.1 518.9 L937.0 521.8 L937.9 524.7 L938.8 527.5 L939.7 530.4 L940.6 533.3 L941.4 536.2 L942.3 539.0 L943.1 541.9 L944.0 544.8 L944.8 547.7 L945.7 550.6 L946.5 553.5 L947.3 556.3 L948.1 559.2 L948.9 562.1 L949.7 565.0 L950.5 567.9 L951.3 570.8 L952.1 573.7 L952.9 576.6 L953.7 579.5 L954.4 582.4 L955.2 585.3 L955.9 588.2 L956.7 591.1 L957.4 594.0 L958.1 596.9 L958.8 599.8 L959.5 602.8 L960.2 605.7 L960.9 608.6 L961.6 611.5 L962.3 614.4 L963.0 617.3 L963.7 620.3 L964.4 623.2 L965.1 626.1 L965.8 629.0 L966.6 631.9 L967.3 634.8 L968.0 637.7 L968.8 640.7 L969.5 643.6 L970.2 646.5 L971.0 649.4 L971.8 652.3 L972.5 655.2 L973.3 658.1 L974.1 661.0 L974.9 663.9 L975.6 666.8 L976.4 669.7 L977.2 672.6 L977.9 675.5 L978.7 678.4 L979.5 681.3 L980.2 684.2 L981.0 687.1 L981.8 690.0 L982.6 692.8 L983.4 695.7 L984.2 698.6 L985.0 701.5 L985.9 704.4 L986.8 707.2 L987.7 710.1 L988.7 712.9 L989.7 715.8 L990.7 718.6 L991.7 721.4 L992.7 724.2 L993.8 727.0 L994.8 729.8 L995.9 732.7 L997.0 735.5 L998.0 738.3 L999.2 741.0 L1000.3 743.8 L1001.4 746.6 L1002.5 749.4 L1003.7 752.1 L1004.9 754.9 L1006.1 757.7 L1007.3 760.4 L1008.6 763.1 L1009.8 765.9 L1011.1 768.6 L1012.4 771.3 L1013.8 773.9 L1015.2 776.6 L1016.6 779.2 L1018.0 781.9 L1019.5 784.4 L1021.1 787.0 L1022.7 789.5 L1024.3 792.0 L1026.0 794.5 L1027.8 796.9 L1029.6 799.3 L1031.4 801.6 L1033.3 803.9 L1035.3 806.2 L1037.4 808.4 L1039.4 810.5 L1041.6 812.6 L1043.8 814.6 L1046.0 816.5 L1048.3 818.4 L1050.7 820.3 L1053.1 822.1 L1055.6 823.8 L1058.1 825.4 L1060.6 827.0 L1063.2 828.5 L1065.8 829.9 L1068.4 831.3 L1071.1 832.6 L1073.8 833.9 L1076.6 835.1 L1079.3 836.3 L1082.1 837.4 L1084.9 838.5 L1087.7 839.5 L1090.5 840.6 L1093.3 841.6 L1096.2 842.5 L1099.0 843.5 L1101.9 844.4 L1104.7 845.3 L1107.6 846.2 L1110.5 847.1 L1113.3 848.0 L1116.2 848.8 L1119.1 849.7 L1122.0 850.5 L1124.9 851.3 L1127.8 852.1 L1130.7 852.8 L1133.6 853.6 L1136.5 854.4 L1139.4 855.1 L1142.3 855.8 L1145.2 856.6 L1148.1 857.3 L1151.0 858.1 L1153.9 858.8 L1156.8 859.6 L1159.7 860.4 L1162.6 861.2 L1165.5 862.0 L1168.4 862.8 L1171.3 863.6 L1174.1 864.5 L1177.0 865.3 L1179.9 866.2 L1182.8 867.0 L1185.6 867.9 L1188.5 868.8 L1191.3 869.8 L1194.2 870.7 L1197.0 871.6 L1199.9 872.6 L1202.7 873.6 L1205.5 874.6 L1208.4 875.6 L1211.2 876.6 L1214.0 877.7 L1216.8 878.7 L1219.6 879.8 L1222.4 880.9 L1225.2 882.1 L1227.9 883.2 L1230.7 884.4 L1233.5 885.6 L1236.2 886.8 L1238.9 888.0 L1241.7 889.3 L1244.4 890.6 L1247.0 891.9 L1249.7 893.3 L1252.4 894.7 L1255.0 896.1 L1257.6 897.6 L1260.1 899.1 L1262.7 900.7 L1265.2 902.4 L1267.6 904.0 L1270.1 905.8 L1272.5 907.6 L1274.8 909.4 L1277.1 911.3 L1279.4 913.3 L1281.6 915.3 L1283.8 917.3 L1285.9 919.4 L1288.0 921.6 L1290.1 923.8 L1292.1 926.0 L1294.0 928.2 L1295.9 930.6 L1297.8 932.9 L1299.6 935.3 L1301.3 937.7 L1303.1 940.2 L1304.7 942.6 L1306.4 945.2 L1308.0 947.7 L1309.5 950.2 L1311.1 952.8 L1312.6 955.4 L1314.0 958.0 L1315.5 960.7 L1316.9 963.3 L1318.3 966.0 L1319.6 968.7 L1320.9 971.4 L1322.2 974.1 L1323.4 976.8 L1324.6 979.6 L1325.7 982.3 L1326.8 985.1 L1327.9 987.9 L1328.9 990.8 L1329.9 993.6 L1330.8 996.4 L1331.7 999.3 L1332.6 1002.2 L1333.4 1005.0 L1334.3 1007.9 L1335.1 1010.8 L1336.0 1013.7 L1336.8 1016.6 L1337.6 1019.4 L1338.5 1022.3 L1339.3 1025.2 L1340.2 1028.1 L1341.0 1031.0 L1341.9 1033.8 L1342.8 1036.7 L1343.6 1039.6 L1344.5 1042.4 L1345.4 1045.3 L1346.3 1048.2 L1347.2 1051.0 L1348.1 1053.9 L1349.1 1056.7 L1350.0 1059.6 L1350.9 1062.4 L1351.9 1065.3 L1352.8 1068.1 L1353.8 1071.0 L1354.7 1073.8 L1355.7 1076.7 L1356.6 1079.5 L1357.6 1082.3 L1358.6 1085.2 L1359.6 1088.0 L1360.5 1090.8 L1361.5 1093.7 L1362.5 1096.5 L1363.5 1099.3 L1364.5 1102.2 L1365.5 1105.0 L1366.5 1107.8 L1367.5 1110.7 L1368.5 1113.5 L1369.5 1116.3 L1370.5 1119.1 L1371.5 1122.0 L1372.5 1124.8 L1373.5 1127.6 L1374.6 1130.4 L1375.6 1133.3 L1376.6 1136.1 L1377.6 1138.9 L1378.6 1141.8 L1379.6 1144.6 L1380.6 1147.4 L1381.6 1150.2 L1382.7 1153.1 L1383.7 1155.9 L1384.8 1158.7 L1385.9 1161.4 L1387.0 1164.2 L1388.2 1167.0 L1389.4 1169.7 L1390.6 1172.5 L1391.8 1175.2 L1393.1 1177.9 L1394.4 1180.6 L1395.8 1183.3 L1397.1 1185.9 L1398.5 1188.6 L1399.8 1191.3 L1401.1 1194.0 L1402.5 1196.7 L1403.8 1199.4 L1405.1 1202.1 L1406.3 1204.8 L1407.6 1207.5 L1408.8 1210.2 L1410.1 1213.0 L1410.9 1214.8 L1413.7 1215.8 L1416.6 1216.7 L1419.4 1217.7 L1422.3 1218.6 L1425.1 1219.6 L1428.0 1220.5 L1430.8 1221.5 L1433.7 1222.4 L1436.5 1223.3 L1439.4 1224.2 L1442.3 1225.1 L1445.1 1225.9 L1448.0 1226.8 L1450.9 1227.7 L1453.8 1228.5 L1456.6 1229.3 L1459.5 1230.2 L1462.4 1231.0 L1465.3 1231.8 L1468.2 1232.6 L1471.1 1233.4 L1474.0 1234.1 L1476.9 1234.9 L1479.8 1235.6 L1482.7 1236.4 L1485.6 1237.1 L1488.5 1237.8 L1491.5 1238.5 L1494.4 1239.2 L1497.3 1239.9 L1500.2 1240.6 L1503.1 1241.3 L1506.0 1242.0 L1508.9 1242.7 L1511.9 1243.4 L1514.8 1244.1 L1517.7 1244.8 L1520.6 1245.5 L1523.5 1246.2 L1526.5 1246.9 L1529.4 1247.5 L1532.3 1248.1 L1535.3 1248.7 L1538.2 1249.3 L1541.1 1249.9 L1544.1 1250.4 L1547.0 1251.0 L1550.0 1251.5 L1553.0 1252.0 L1555.9 1252.5 L1558.9 1253.0 L1561.8 1253.5 L1564.8 1253.9 L1567.8 1254.4 L1570.7 1254.8 L1573.7 1255.2 L1576.7 1255.6 L1579.7 1256.0 L1582.6 1256.4 L1585.6 1256.8 L1588.6 1257.1 L1591.6 1257.4 L1594.6 1257.8 L1597.5 1258.0 L1600.5 1258.3 L1603.5 1258.6 L1606.5 1258.8 L1609.5 1259.0 L1612.5 1259.2 L1615.5 1259.4 L1618.5 1259.6 L1621.5 1259.8 L1624.5 1259.9 L1627.5 1260.1 L1630.5 1260.2 L1633.5 1260.4 L1636.5 1260.5 L1639.5 1260.6 L1642.5 1260.7 L1645.5 1260.7 L1648.5 1260.8 L1651.5 1260.9 L1654.4 1260.9 L1657.4 1261.0 L1660.4 1261.0 L1663.4 1261.1 L1666.4 1261.1 L1669.4 1261.2 L1672.4 1261.2 L1675.4 1261.3 L1678.4 1261.3 L1681.4 1261.3 L1684.4 1261.4 L1687.4 1261.4 L1690.4 1261.5 L1693.4 1261.5 L1696.4 1261.6 L1699.4 1261.6 L1702.4 1261.7 L1705.4 1261.7 L1708.4 1261.8 L1711.4 1261.8 L1714.4 1261.9 L1717.4 1262.0 L1720.4 1262.0 L1723.4 1262.1 L1726.4 1262.2 L1729.4 1262.2 L1732.4 1262.3 L1735.4 1262.4 L1738.4 1262.5 L1741.4 1262.5 L1744.4 1262.6 L1747.4 1262.7 L1750.4 1262.8 L1753.4 1262.9 L1756.4 1262.9 L1759.4 1263.0 L1762.4 1263.1 L1765.4 1263.2 L1768.4 1263.3 L1771.4 1263.4 L1774.4 1263.5 L1777.4 1263.5 L1780.4 1263.6 L1783.4 1263.7 L1786.4 1263.8 L1789.4 1263.9 L1792.4 1264.0 L1795.4 1264.1 L1798.4 1264.2 L1801.4 1264.2 L1804.4 1264.3 L1807.4 1264.4 L1810.4 1264.5 L1813.4 1264.6 L1816.4 1264.7 L1819.4 1264.8 L1822.4 1264.8 L1825.4 1264.9 L1828.4 1265.0 L1831.4 1265.1 L1834.4 1265.2 L1837.4 1265.3 L1840.4 1265.3 L1843.4 1265.4 L1846.4 1265.5 L1849.4 1265.6 L1852.4 1265.7 L1855.4 1265.7 L1858.4 1265.8 L1861.4 1265.9 L1864.4 1266.0 L1867.4 1266.0 L1870.4 1266.1 L1873.4 1266.2 L1876.4 1266.3 L1879.4 1266.3 L1882.4 1266.4 L1885.4 1266.5 L1888.4 1266.6 L1891.4 1266.6 L1894.4 1266.7 L1897.4 1266.8 L1900.4 1266.9 L1903.4 1266.9 L1906.4 1267.0 L1909.4 1267.1 L1912.4 1267.2 L1915.4 1267.2 L1918.4 1267.3 L1921.4 1267.4 L1924.4 1267.5 L1927.4 1267.5 L1930.4 1267.6 L1933.4 1267.7 L1936.4 1267.8 L1939.4 1267.8 L1942.4 1267.9 L1945.4 1268.0 L1948.4 1268.1 L1951.4 1268.1 L1954.4 1268.2 L1957.4 1268.3 L1960.4 1268.4 L1963.4 1268.4 L1966.4 1268.5 L1969.4 1268.6 L1972.3 1268.6 L1975.3 1268.7 L1978.3 1268.8 L1981.3 1268.9 L1984.3 1268.9 L1987.3 1269.0 L1990.2 1269.1 L1993.2 1269.1 L1996.1 1269.2 L1999.0 1269.3 L2000.0 1269.3"/>
<path stroke="#FF00FF" d="M304.0 213.4 L307.0 213.7 L310.0 213.9 L313.0 214.2 L315.9 214.5 L318.9 214.9 L321.9 215.3 L324.9 215.7 L327.8 216.2 L330.8 216.7 L333.7 217.3 L336.7 217.9 L339.6 218.5 L342.5 219.2 L345.4 219.9 L348.3 220.6 L351.2 221.4 L354.1 222.2 L357.0 223.0 L359.9 223.9 L362.7 224.8 L365.6 225.7 L368.4 226.7 L371.3 227.6 L374.1 228.6 L377.0 229.6 L379.8 230.6 L382.6 231.6 L385.4 232.6 L388.3 233.6 L391.1 234.7 L393.9 235.7 L396.7 236.8 L399.4 238.0 L402.2 239.2 L404.9 240.4 L407.6 241.6 L410.3 242.9 L413.0 244.3 L415.7 245.6 L418.3 247.0 L421.0 248.4 L423.6 249.8 L426.3 251.2 L429.0 252.6 L431.6 254.0 L434.3 255.3 L437.0 256.7 L439.6 258.1 L442.3 259.4 L445.0 260.8 L447.7 262.1 L450.4 263.5 L453.0 264.8 L455.7 266.2 L458.4 267.5 L461.1 268.9 L463.8 270.2 L466.5 271.5 L469.1 272.9 L471.8 274.2 L474.5 275.6 L477.2 276.9 L479.9 278.3 L482.5 279.6 L485.2 281.0 L487.9 282.3 L490.6 283.7 L493.2 285.1 L495.9 286.4 L498.6 287.8 L501.3 289.2 L504.0 290.5 L506.6 291.9 L509.3 293.2 L512.0 294.5 L514.7 295.8 L517.4 297.1 L520.1 298.4 L522.9 299.6 L525.6 300.9 L528.3 302.1 L531.1 303.3 L533.8 304.4 L536.6 305.6 L539.4 306.7 L542.2 307.8 L545.0 308.9 L547.8 310.0 L550.6 311.0 L553.4 312.1 L556.2 313.1 L559.0 314.1 L561.8 315.2 L564.7 316.2 L567.5 317.1 L570.4 318.1 L573.2 319.1 L576.0 320.0 L578.9 321.0 L581.7 321.9 L584.6 322.8 L587.5 323.8 L590.3 324.7 L593.2 325.6 L596.1 326.5 L598.9 327.3 L601.8 328.2 L604.7 329.1 L607.6 329.9 L610.4 330.7 L613.3 331.5 L616.2 332.3 L619.1 333.1 L622.0 333.8 L624.9 334.5 L627.9 335.2 L630.8 335.9 L633.7 336.5 L636.6 337.2 L639.6 337.8 L642.5 338.4 L645.4 339.0 L648.4 339.6 L651.3 340.1 L654.3 340.7 L657.2 341.2 L660.2 341.7 L663.1 342.2 L666.1 342.7 L669.1 343.2 L672.0 343.7 L675.0 344.1 L678.0 344.6 L680.9 345.1 L683.9 345.5 L686.9 345.9 L689.8 346.4 L692.8 346.8 L695.8 347.2 L698.8 347.6 L701.7 347.9 L704.7 348.3 L707.7 348.7 L710.7 349.0 L713.7 349.4 L716.6 349.7 L719.6 350.1 L722.6 350.4 L725.6 350.7 L728.6 351.1 L731.5 351.4 L734.5 351.7 L737.5 352.1 L740.5 352.4 L743.5 352.8 L746.4 353.1 L749.4 353.5 L752.4 353.9 L755.4 354.3 L758.3 354.7 L761.3 355.1 L764.3 355.6 L767.2 356.0 L770.2 356.5 L773.2 356.9 L776.1 357.4 L779.1 357.9 L782.0 358.5 L785.0 359.0 L787.9 359.5 L790.9 360.0 L793.8 360.6 L796.8 361.1 L799.7 361.7 L802.7 362.2 L805.6 362.8 L808.6 363.3 L811.5 363.9 L814.5 364.4 L817.4 365.0 L820.4 365.6 L823.3 366.2 L826.3 366.7 L829.2 367.3 L832.1 368.0 L835.1 368.6 L838.0 369.2 L840.9 369.9 L843.9 370.6 L846.8 371.3 L849.7 372.1 L852.5 372.9 L855.4 373.8 L858.3 374.7 L861.1 375.6 L863.9 376.6 L866.8 377.7 L869.6 378.8 L872.3 380.0 L875.1 381.2 L877.8 382.5 L880.5 383.9 L883.2 385.3 L885.8 386.7 L888.4 388.2 L890.9 389.8 L893.4 391.4 L895.9 393.1 L898.2 394.8 L900.6 396.6 L902.9 398.5 L905.1 400.4 L907.3 402.4 L909.5 404.5 L911.6 406.6 L913.7 408.8 L915.7 411.0 L917.7 413.3 L919.6 415.6 L921.5 417.9 L923.4 420.3 L925.2 422.7 L927.0 425.1 L928.8 427.5 L930.5 430.0 L932.2 432.4 L933.9 434.9 L935.5 437.5 L937.1 440.0 L938.6 442.6 L940.1 445.2 L941.5 447.8 L943.0 450.4 L944.3 453.1 L945.7 455.8 L946.9 458.5 L948.2 461.2 L949.4 463.9 L950.5 466.7 L951.6 469.5 L952.7 472.3 L953.8 475.1 L954.8 477.9 L955.9 480.7 L956.9 483.5 L957.9 486.4 L958.9 489.2 L959.9 492.0 L960.9 494.9 L961.8 497.7 L962.8 500.6 L963.7 503.4 L964.7 506.3 L965.6 509.1 L966.6 512.0 L967.5 514.8 L968.4 517.7 L969.3 520.5 L970.3 523.4 L971.2 526.2 L972.1 529.1 L973.0 531.9 L974.0 534.8 L974.9 537.6 L975.9 540.5 L976.8 543.3 L977.8 546.2 L978.8 549.0 L979.7 551.9 L980.7 554.7 L981.7 557.5 L982.7 560.4 L983.7 563.2 L984.7 566.0 L985.7 568.8 L986.6 571.7 L987.6 574.5 L988.6 577.4 L989.5 580.2 L990.5 583.1 L991.4 585.9 L992.3 588.8 L993.2 591.6 L994.1 594.5 L995.0 597.4 L995.8 600.2 L996.7 603.1 L997.5 606.0 L998.4 608.9 L999.2 611.8 L1000.0 614.6 L1000.9 617.5 L1001.7 620.4 L1002.6 623.3 L1003.4 626.2 L1004.3 629.0 L1005.1 631.9 L1006.0 634.8 L1006.9 637.6 L1007.8 640.5 L1008.7 643.4 L1009.7 646.2 L1010.6 649.1 L1011.5 651.9 L1012.5 654.8 L1013.4 657.6 L1014.4 660.5 L1015.4 663.3 L1016.4 666.1 L1017.5 668.9 L1018.6 671.7 L1019.6 674.5 L1020.8 677.3 L1021.9 680.1 L1023.1 682.8 L1024.3 685.5 L1025.6 688.3 L1026.8 691.0 L1028.1 693.7 L1029.4 696.4 L1030.7 699.1 L1032.0 701.8 L1033.2 704.5 L1034.5 707.2 L1035.8 709.9 L1037.2 712.6 L1038.6 715.2 L1040.0 717.8 L1041.5 720.4 L1043.1 722.9 L1044.8 725.3 L1046.5 727.7 L1048.4 730.0 L1050.4 732.2 L1052.4 734.2 L1054.6 736.2 L1056.9 738.1 L1059.2 739.8 L1061.7 741.5 L1064.2 743.0 L1066.8 744.5 L1069.4 746.0 L1072.0 747.4 L1074.7 748.7 L1077.4 750.1 L1080.1 751.4 L1082.8 752.6 L1085.5 753.9 L1088.3 755.1 L1091.0 756.3 L1093.8 757.4 L1096.6 758.5 L1099.4 759.6 L1102.2 760.6 L1105.1 761.6 L1107.9 762.5 L1110.8 763.4 L1113.6 764.3 L1116.5 765.1 L1119.4 765.8 L1122.3 766.5 L1125.2 767.2 L1128.2 767.9 L1131.1 768.5 L1134.0 769.2 L1137.0 769.8 L1139.9 770.5 L1142.8 771.1 L1145.7 771.8 L1148.6 772.5 L1151.6 773.2 L1154.5 773.9 L1157.4 774.6 L1160.3 775.4 L1163.2 776.2 L1166.1 777.0 L1169.0 777.8 L1171.8 778.7 L1174.7 779.5 L1177.6 780.4 L1180.5 781.2 L1183.3 782.1 L1186.2 783.0 L1189.0 783.9 L1191.9 784.9 L1194.8 785.8 L1197.6 786.8 L1200.4 787.7 L1203.3 788.7 L1206.1 789.7 L1208.9 790.7 L1211.8 791.7 L1214.6 792.7 L1217.4 793.8 L1220.2 794.8 L1223.0 795.9 L1225.8 797.0 L1228.6 798.1 L1231.4 799.2 L1234.2 800.3 L1236.9 801.5 L1239.7 802.7 L1242.4 803.9 L1245.2 805.1 L1247.9 806.4 L1250.6 807.7 L1253.3 809.0 L1256.0 810.3 L1258.6 811.7 L1261.3 813.1 L1263.9 814.5 L1266.5 816.0 L1269.1 817.5 L1271.7 819.0 L1274.3 820.5 L1276.9 822.1 L1279.4 823.7 L1281.9 825.3 L1284.5 826.9 L1287.0 828.6 L1289.4 830.3 L1291.9 832.0 L1294.3 833.7 L1296.7 835.5 L1299.1 837.3 L1301.5 839.2 L1303.8 841.1 L1306.1 843.0 L1308.4 844.9 L1310.7 846.9 L1312.9 848.9 L1315.1 850.9 L1317.3 853.0 L1319.4 855.1 L1321.5 857.2 L1323.6 859.4 L1325.7 861.5 L1327.7 863.7 L1329.7 866.0 L1331.7 868.2 L1333.6 870.5 L1335.6 872.8 L1337.4 875.1 L1339.3 877.4 L1341.1 879.8 L1342.8 882.3 L1344.5 884.7 L1346.1 887.2 L1347.7 889.8 L1349.3 892.3 L1350.8 894.9 L1352.2 897.5 L1353.7 900.1 L1355.1 902.8 L1356.6 905.4 L1358.0 908.1 L1359.4 910.7 L1360.8 913.4 L1362.2 916.1 L1363.5 918.8 L1364.9 921.4 L1366.2 924.1 L1367.5 926.8 L1368.8 929.5 L1370.1 932.2 L1371.4 934.9 L1372.6 937.7 L1373.8 940.4 L1375.0 943.2 L1376.2 945.9 L1377.4 948.7 L1378.5 951.5 L1379.6 954.2 L1380.8 957.0 L1381.9 959.8 L1383.0 962.6 L1384.1 965.4 L1385.3 968.1 L1386.4 970.9 L1387.5 973.7 L1388.7 976.5 L1389.9 979.2 L1391.0 982.0 L1392.2 984.7 L1393.4 987.5 L1394.7 990.2 L1395.9 992.9 L1397.2 995.7 L1398.4 998.4 L1399.7 1001.1 L1401.0 1003.8 L1402.3 1006.5 L1403.6 1009.2 L1404.9 1011.9 L1406.2 1014.6 L1407.5 1017.3 L1408.8 1020.0 L1410.1 1022.7 L1411.4 1025.4 L1412.7 1028.1 L1414.0 1030.8 L1415.3 1033.6 L1416.6 1036.3 L1417.9 1039.0 L1419.1 1041.7 L1420.4 1044.4 L1421.7 1047.1 L1423.0 1049.8 L1424.2 1052.6 L1425.5 1055.3 L1426.8 1058.0 L1428.0 1060.7 L1429.3 1063.4 L1430.6 1066.2 L1431.8 1068.9 L1433.1 1071.6 L1434.4 1074.3 L1435.7 1077.0 L1437.0 1079.7 L1438.3 1082.4 L1439.6 1085.1 L1441.0 1087.8 L1442.3 1090.5 L1443.7 1093.2 L1445.0 1095.8 L1446.4 1098.5 L1447.9 1101.1 L1449.3 1103.7 L1450.8 1106.4 L1452.3 1109.0 L1453.8 1111.5 L1455.3 1114.1 L1456.9 1116.6 L1458.5 1119.2 L1460.2 1121.7 L1461.8 1124.2 L1463.5 1126.6 L1465.2 1129.1 L1467.0 1131.5 L1468.7 1134.0 L1470.5 1136.4 L1472.3 1138.8 L1474.1 1141.2 L1476.0 1143.5 L1477.8 1145.9 L1479.7 1148.3 L1481.6 1150.6 L1483.5 1152.9 L1485.4 1155.2 L1487.3 1157.5 L1489.3 1159.8 L1491.3 1162.0 L1493.3 1164.3 L1495.3 1166.5 L1497.3 1168.7 L1499.4 1170.8 L1501.5 1173.0 L1503.6 1175.1 L1505.8 1177.2 L1507.9 1179.3 L1510.1 1181.3 L1512.3 1183.4 L1514.5 1185.4 L1516.7 1187.5 L1518.9 1189.5 L1521.1 1191.5 L1523.3 1193.6 L1525.5 1195.6 L1527.7 1197.6 L1529.9 1199.7 L1532.1 1201.7 L1534.3 1203.7 L1536.6 1205.7 L1538.8 1207.8 L1541.0 1209.8 L1543.3 1211.7 L1545.5 1213.7 L1547.8 1215.6 L1550.1 1217.6 L1552.4 1219.5 L1554.8 1221.3 L1557.2 1223.2 L1559.6 1225.0 L1562.0 1226.7 L1564.4 1228.5 L1566.9 1230.2 L1569.4 1231.8 L1571.9 1233.4 L1574.5 1234.9 L1577.1 1236.4 L1579.7 1237.8 L1582.4 1239.1 L1585.1 1240.4 L1587.8 1241.6 L1590.6 1242.7 L1593.4 1243.8 L1596.2 1244.7 L1599.1 1245.7 L1601.9 1246.6 L1604.8 1247.4 L1607.7 1248.2 L1610.6 1249.0 L1613.5 1249.7 L1616.4 1250.4 L1619.3 1251.0 L1622.3 1251.6 L1625.2 1252.2 L1628.2 1252.7 L1631.1 1253.2 L1634.1 1253.7 L1637.0 1254.1 L1640.0 1254.5 L1643.0 1254.9 L1646.0 1255.3 L1648.9 1255.6 L1651.9 1255.9 L1654.9 1256.2 L1657.9 1256.5 L1660.9 1256.8 L1663.9 1257.0 L1666.9 1257.2 L1669.9 1257.5 L1672.9 1257.7 L1675.9 1257.9 L1678.8 1258.0 L1681.8 1258.2 L1684.8 1258.3 L1687.8 1258.5 L1690.8 1258.6 L1693.8 1258.7 L1696.8 1258.9 L1699.8 1259.0 L1702.8 1259.1 L1705.8 1259.2 L1708.8 1259.3 L1711.8 1259.4 L1714.8 1259.5 L1717.8 1259.6 L1720.8 1259.7 L1723.8 1259.8 L1726.8 1259.9 L1729.8 1259.9 L1732.8 1260.0 L1735.8 1260.1 L1738.8 1260.2 L1741.8 1260.3 L1744.8 1260.4 L1747.8 1260.5 L1750.8 1260.6 L1753.8 1260.7 L1756.8 1260.7 L1759.8 1260.8 L1762.8 1260.9 L1765.8 1261.0 L1768.8 1261.1 L1771.8 1261.2 L1774.8 1261.3 L1777.8 1261.4 L1780.8 1261.4 L1783.8 1261.5 L1786.8 1261.6 L1789.8 1261.7 L1792.8 1261.8 L1795.8 1261.9 L1798.8 1262.0 L1801.8 1262.1 L1804.8 1262.2 L1807.8 1262.2 L1810.8 1262.3 L1813.8 1262.4 L1816.8 1262.5 L1819.8 1262.6 L1822.8 1262.7 L1825.8 1262.8 L1828.8 1262.9 L1831.8 1263.0 L1834.8 1263.1 L1837.8 1263.2 L1840.8 1263.3 L1843.8 1263.4 L1846.8 1263.5 L1849.8 1263.6 L1852.8 1263.7 L1855.8 1263.8 L1858.8 1263.9 L1861.7 1264.1 L1864.7 1264.2 L1867.7 1264.3 L1870.7 1264.4 L1873.7 1264.5 L1876.7 1264.6 L1879.7 1264.8 L1882.7 1264.9 L1885.7 1265.0 L1888.7 1265.1 L1891.7 1265.2 L1894.7 1265.2 L1897.7 1265.3 L1900.7 1265.4 L1903.7 1265.5 L1906.7 1265.5 L1909.7 1265.6 L1912.7 1265.7 L1915.7 1265.7 L1918.7 1265.8 L1921.7 1265.8 L1924.7 1265.8 L1927.7 1265.9 L1930.7 1265.9 L1933.7 1266.0 L1936.7 1266.0 L1939.7 1266.1 L1942.7 1266.1 L1945.7 1266.1 L1948.7 1266.2 L1951.7 1266.2 L1954.7 1266.2 L1957.7 1266.3 L1960.7 1266.3 L1963.7 1266.3 L1966.7 1266.3 L1969.7 1266.4 L1972.7 1266.4 L1975.7 1266.4 L1978.7 1266.4 L1981.6 1266.4 L1984.6 1266.5 L1987.5 1266.5 L1990.4 1266.5 L1993.3 1266.5 L1996.2 1266.5 L1999.0 1266.5 L2000.0 1266.5"/>
</g>
<rect x="0" y="0" width="298" height="1741" fill="#fff"/>
<rect x="2008" y="0" width="49" height="1741" fill="#fff"/>
<g fill="#000">
<rect x="464.8" y="1432" width="9.5" height="25"/>
<rect x="743.5" y="1432" width="9.5" height="25"/>
<rect x="1022.3" y="1432" width="9.5" height="25"/>
<rect x="1301.2" y="1432" width="9.5" height="25"/>
<rect x="1579.9" y="1432" width="9.5" height="25"/>
<rect x="1858.8" y="1432" width="9.5" height="25"/>
<rect x="325.4" y="1446" width="9.5" height="11"/>
<rect x="604.1" y="1446" width="9.5" height="11"/>
<rect x="883.0" y="1446" width="9.5" height="11"/>
<rect x="1161.8" y="1446" width="9.5" height="11"/>
<rect x="1440.5" y="1446" width="9.5" height="11"/>
<rect x="1719.3" y="1446" width="9.5" height="11"/>
<rect x="306" y="1317.9" width="10" height="9.8"/>
<rect x="306" y="1180.7" width="23" height="9.8"/>
<rect x="306" y="1043.5" width="10" height="9.8"/>
<rect x="306" y="906.3" width="23" height="9.8"/>
<rect x="306" y="769.1" width="10" height="9.8"/>
<rect x="306" y="631.9" width="23" height="9.8"/>
<rect x="306" y="494.7" width="10" height="9.8"/>
<rect x="306" y="357.5" width="23" height="9.8"/>
<rect x="306" y="220.3" width="10" height="9.8"/>
</g>
<rect x="303" y="88.3" width="1700" height="1371.7" fill="none" stroke="#000" stroke-width="10.2"/>
<g font-size="77">
<text x="257" y="234.0" text-anchor="end">100</text>
<text x="257" y="483.5" text-anchor="end">80</text>
<text x="257" y="733.0" text-anchor="end">60</text>
<text x="257" y="982.0" text-anchor="end">40</text>
<text x="257" y="1230.5" text-anchor="end">20</text>
<text x="257" y="1480.5" text-anchor="end">0</text>
<text x="470.2" y="1548" text-anchor="middle">100</text>
<text x="749.0" y="1548" text-anchor="middle">200</text>
<text x="1027.8" y="1548" text-anchor="middle">300</text>
<text x="1306.6" y="1548" text-anchor="middle">400</text>
<text x="1585.4" y="1548" text-anchor="middle">500</text>
<text x="1864.2" y="1548" text-anchor="middle">600</text>
<text x="1153.2" y="1678" text-anchor="middle" font-size="77.3">Temperature (°C)</text>
<text transform="translate(97.8,773) rotate(-90)" text-anchor="middle" font-size="77.5">Weight Loss (%)</text>
</g>
<g>
<line x1="1360.5" y1="328" x2="1519" y2="328" stroke="#555555" stroke-width="10" stroke-linecap="round"/>
<text x="1537" y="352" font-size="71">a</text>
<line x1="1360.5" y1="418" x2="1519" y2="418" stroke="#F04040" stroke-width="10" stroke-linecap="round"/>
<text x="1537" y="442" font-size="71">b</text>
<line x1="1360.5" y1="508" x2="1519" y2="508" stroke="#1E69DC" stroke-width="10" stroke-linecap="round"/>
<text x="1537" y="532" font-size="71">c</text>
<line x1="1360.5" y1="598" x2="1519" y2="598" stroke="#FF00FF" stroke-width="10" stroke-linecap="round"/>
<text x="1537" y="622" font-size="71">d</text>
</g>
</svg>
</body></html>
